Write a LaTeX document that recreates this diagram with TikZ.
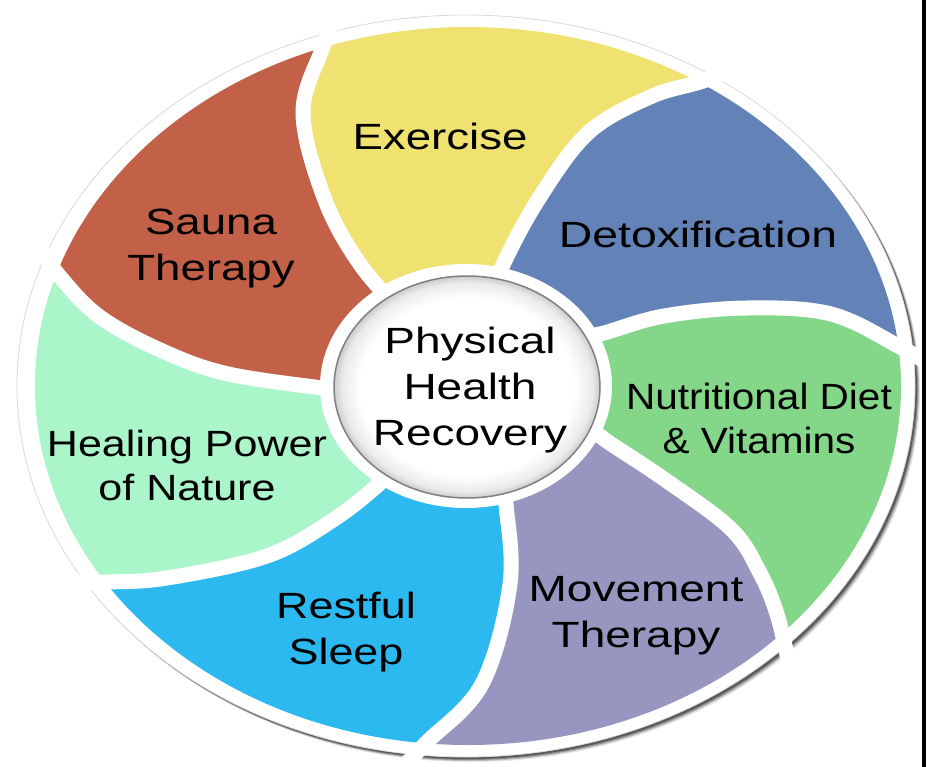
\documentclass[tikz,border=0pt]{standalone}
\usepackage{fontspec}
\setmainfont{Liberation Sans}
\definecolor{csauna}{HTML}{C26048}
\definecolor{cexer}{HTML}{F0E270}
\definecolor{cdetox}{HTML}{6383B8}
\definecolor{cnutri}{HTML}{84D689}
\definecolor{cmove}{HTML}{9696C0}
\definecolor{csleep}{HTML}{2BB9F0}
\definecolor{cheal}{HTML}{AAF5CA}
\pgfdeclareradialshading{ringshade}{\pgfpointorigin}{color(0bp)=(white); color(20bp)=(white); color(23.5bp)=(black!8); color(25bp)=(black!20); color(50bp)=(black!20)}
\tikzset{
  lbl/.style={font=\fontsize{36.5}{46}\selectfont, align=center, inner sep=0pt, text=black},
  sepline/.style={white, line width=15pt, line cap=round},
  smoothplot/.style={smooth, tension=0.6}
}
\begin{document}
\begin{tikzpicture}[x=1pt,y=-1pt]
\useasboundingbox (0,0) rectangle (928,767);
% shadow of the disc
\foreach \s/\o in {5/0.10,4/0.18,3/0.28,2/0.35} {
  \fill[black, opacity=\o] (466+\s,386+\s) ellipse [x radius=449, y radius=371];
}
% white disc
\fill[white, draw=black!15, line width=0.8pt] (466,386) ellipse [x radius=449, y radius=371];
% petals
\begin{scope}
\clip (468,386) ellipse [x radius=433, y radius=359];
\fill[csauna] (466,386) -- plot[smoothplot] coordinates {(340,390) (233,375) (167,353) (100,317) (57,273) (35,240)}
  -- (-396,94) -- (204,-356)
  -- plot[smoothplot] coordinates {(335,15) (323,47) (303,113) (325,200) (362,267) (410,320)} -- cycle;
\fill[cexer] (466,386) -- plot[smoothplot] coordinates {(410,320) (362,267) (325,200) (303,113) (323,47) (335,15)}
  -- (204,-356) -- (1014,-250)
  -- plot[smoothplot] coordinates {(740,68) (700,82) (650,97) (588,133) (538,200) (502,267) (492,300)} -- cycle;
\fill[cdetox] (466,386) -- plot[smoothplot] coordinates {(492,300) (502,267) (538,200) (588,133) (650,97) (700,82) (740,68)}
  -- (1014,-250) -- (1394,344)
  -- plot[smoothplot] coordinates {(930,365) (900,347) (831,314) (747,308) (664,316) (604,333) (590,335)} -- cycle;
\fill[cnutri] (466,386) -- plot[smoothplot] coordinates {(590,335) (604,333) (664,316) (747,308) (831,314) (900,347) (930,365)}
  -- (1394,344) -- (1110,934)
  -- plot[smoothplot] coordinates {(788,660) (777,614) (760,573) (731,529) (664,479) (604,439) (590,425)} -- cycle;
\fill[cmove] (466,386) -- plot[smoothplot] coordinates {(590,425) (604,439) (664,479) (731,529) (760,573) (777,614) (788,660)}
  -- (1110,934) -- (334,1154)
  -- plot[smoothplot] coordinates {(400,770) (426,743) (482,684) (510,584) (506,504) (505,490)} -- cycle;
\fill[csleep] (466,386) -- plot[smoothplot] coordinates {(505,490) (506,504) (510,584) (482,684) (426,743) (400,770)}
  -- (334,1154) -- (-326,778)
  -- plot[smoothplot] coordinates {(70,582) (106,582) (167,578) (267,556) (333,520) (378,485) (390,470)} -- cycle;
\fill[cheal] (466,386) -- plot[smoothplot] coordinates {(390,470) (378,485) (333,520) (267,556) (167,578) (106,582) (70,582)}
  -- (-326,778) -- (-396,94)
  -- plot[smoothplot] coordinates {(35,240) (57,273) (100,317) (167,353) (233,375) (340,390)} -- cycle;
\end{scope}
% white gaps between petals
\draw[sepline] plot[smoothplot] coordinates {(410,320) (362,267) (325,200) (303,113) (323,47) (335,15)};
\draw[sepline] plot[smoothplot] coordinates {(492,300) (502,267) (538,200) (588,133) (650,97) (700,82) (740,68)};
\draw[sepline] plot[smoothplot] coordinates {(590,335) (604,333) (664,316) (747,308) (831,314) (900,347) (930,365)};
\draw[sepline] plot[smoothplot] coordinates {(590,425) (604,439) (664,479) (731,529) (760,573) (777,614) (788,660)};
\draw[sepline] plot[smoothplot] coordinates {(505,490) (506,504) (510,584) (482,684) (426,743) (400,770)};
\draw[sepline] plot[smoothplot] coordinates {(390,470) (378,485) (333,520) (267,556) (167,578) (106,582) (70,582)};
\draw[sepline] plot[smoothplot] coordinates {(340,390) (233,375) (167,353) (100,317) (57,273) (35,240)};
% white ring and centre circle
\fill[white] (466,386) ellipse [x radius=146, y radius=122];
\shade[shading=ringshade] (467,387) ellipse [x radius=133, y radius=111];
\draw[black!50, line width=1.5pt] (467,387) ellipse [x radius=133, y radius=111];
% labels
\node[lbl, xscale=1.25] (exercise) at (440,136) {Exercise};
\node[lbl, xscale=1.25] (sauna) at (211,249) {Sauna\\Therapy};
\node[lbl, xscale=1.27] (detox) at (698,234) {Detoxification};
\node[lbl, xscale=1.11, font=\fontsize{36.5}{44}\selectfont] (nutri) at (759,418) {Nutritional Diet\\\& Vitamins};
\node[lbl, xscale=1.26] (move) at (636,616) {Movement\\Therapy};
\node[lbl, xscale=1.23] (sleep) at (346,632) {Restful\\Sleep};
\node[lbl, xscale=1.18, font=\fontsize{36.5}{44}\selectfont] (heal) at (187,465) {Healing Power\\of Nature};
\node[lbl, xscale=1.26] (hub) at (470,390) {Physical\\Health\\Recovery};
% frame line at right
\draw[black, line width=3.5pt] (924,0) -- (924,767);
\end{tikzpicture}
\end{document}
